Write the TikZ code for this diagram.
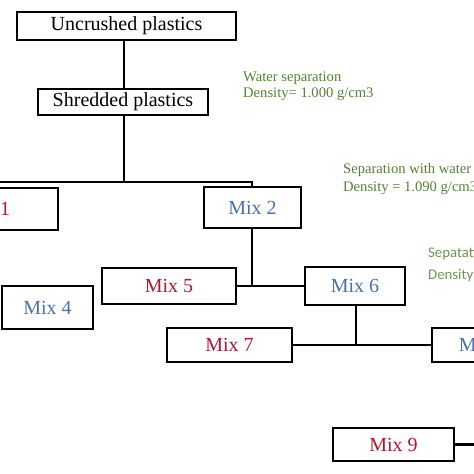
\documentclass[tikz,border=0pt]{standalone}
\usepackage{fontspec}
\setmainfont{Liberation Serif}
\newfontfamily\calib{Carlito}
\definecolor{lblgreen}{HTML}{548235}
\definecolor{mixred}{HTML}{B01830}
\definecolor{mixblue}{HTML}{4A6FB5}
\begin{document}
\begin{tikzpicture}[x=1pt,y=-1pt,
  box/.style={draw=black, line width=1.8pt, fill=white, inner sep=0pt,
    font=\fontsize{20}{24}\selectfont},
  redbox/.style={box, text=mixred},
  bluebox/.style={box, text=mixblue},
  conn/.style={line width=2.2pt, line cap=rect},
  lbl/.style={anchor=base west, inner sep=0pt, text=lblgreen,
    font=\fontsize{14.6}{16}\selectfont},
  sanslbl/.style={anchor=base west, inner sep=0pt, text=lblgreen!85!white,
    font=\calib\fontsize{14.8}{18}\selectfont}]
\useasboundingbox (0,0) rectangle (474,474);
\fill[white] (0,0) rectangle (474,474);
\clip (0,0) rectangle (474,474);

% boxes
\node[box, minimum width=219pt, minimum height=28pt] (unc) at (126.5,26) {Uncrushed plastics};
\node[box, minimum width=170pt, minimum height=26pt] (shr) at (123,102) {Shredded plastics};
\node[redbox, minimum width=144pt, minimum height=42pt] (mix1) at (-14,209) {Mix 1};
\node[bluebox, minimum width=97pt, minimum height=41pt] (mix2) at (252.5,207.5) {Mix 2};
\node[bluebox, minimum width=91pt, minimum height=43pt] (mix4) at (47.5,307.5) {Mix 4};
\node[redbox, minimum width=134pt, minimum height=36pt] (mix5) at (169,286) {Mix 5};
\node[bluebox, minimum width=100pt, minimum height=38pt] (mix6) at (355,286) {Mix 6};
\node[redbox, minimum width=125pt, minimum height=34pt] (mix7) at (229.5,345) {Mix 7};
\node[bluebox, minimum width=102pt, minimum height=34pt] (mix8) at (483,345) {Mix 8};
\node[redbox, minimum width=121pt, minimum height=33pt] (mix9) at (393.5,444.5) {Mix 9};

% junction points
\coordinate (v0) at (124,0);
\coordinate (j1) at (124,182);
\coordinate (j1l) at (-40,182);
\coordinate (j1r) at (252,182);
\coordinate (j2) at (252,286);
\coordinate (j3) at (356,345);
\coordinate (m9r) at (490,444.5);

\draw[conn] (unc.south -| v0) -- (shr.north -| v0);
\draw[conn] (shr.south -| v0) -- (j1);
\draw[conn] (j1l) -- (j1r) -- (mix2.north -| j1r);
\draw[conn] (mix2.south -| j2) -- (j2);
\draw[conn] (mix5.east) -- (mix6.west);
\draw[conn] (mix6.south -| j3) -- (j3);
\draw[conn] (mix7.east) -- (mix8.west);
\draw[conn] (mix9.east) -- (m9r);

% labels
\node[lbl] (l1a) at (243,81) {Water separation};
\node[lbl] (l1b) at (243,97) {Density= 1.000 g/cm3};
\node[lbl] (l2a) at (343,173) {Separation with water};
\node[lbl] (l2b) at (343,191) {Density = 1.090 g/cm3};
\node[sanslbl] (l3a) at (428,257) {Sepatation};
\node[sanslbl] (l3b) at (428,279) {Density =};
\end{tikzpicture}
\end{document}
